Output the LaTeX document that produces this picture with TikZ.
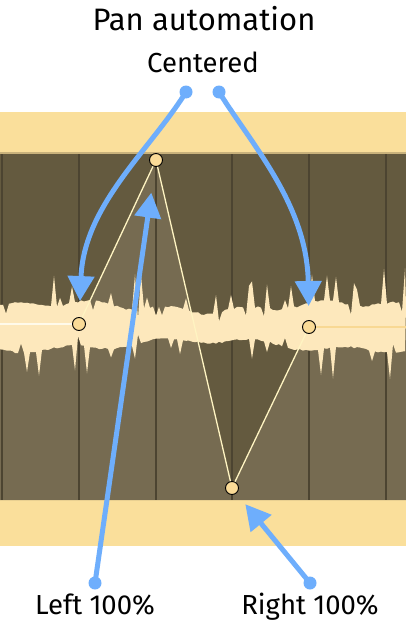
\documentclass[tikz,border=0pt]{standalone}
\usepackage{fontspec}
\setmainfont{Fira Sans}
\usetikzlibrary{arrows.meta}
\usetikzlibrary{positioning}

\definecolor{laneYellow}{HTML}{FADF9B}
\definecolor{laneDark}{HTML}{645A3F}
\definecolor{laneLight}{HTML}{766B51}
\definecolor{gridLine}{HTML}{4C4431}
\definecolor{bandEdge}{HTML}{C9B27C}
\definecolor{waveFill}{HTML}{FDE8BC}
\definecolor{curveLine}{HTML}{FFF4C2}
\definecolor{headLine}{HTML}{FFFAEA}
\definecolor{tailLine}{HTML}{F8D893}
\definecolor{pointFill}{HTML}{FADB97}
\definecolor{pointerBlue}{HTML}{6EAEFC}

\begin{document}
\begin{tikzpicture}[x=1pt, y=-1pt,
    autopoint/.style={circle, draw=black, line width=0.9pt, fill=pointFill,
        minimum size=13pt, inner sep=0pt},
    pointer/.style={pointerBlue, line width=5pt,
        -{Triangle[length=25pt, width=26pt]}},
    pointerdot/.style={fill=pointerBlue},
    bigcaption/.style={font=\fontsize{31}{34}\selectfont, anchor=base},
    caption/.style={font=\fontsize{27.5}{31}\selectfont, anchor=base}
]
    \fill[white] (0,0) rectangle (406,626);
    \useasboundingbox (0,0) rectangle (406,626);

    % lanes
    \fill[laneYellow] (0,112) rectangle (406,152);
    \fill[laneYellow] (0,500) rectangle (406,546);
    \fill[laneDark] (0,152) rectangle (406,500);
    \draw[bandEdge, line width=2pt] (0,153) -- (406,153);

    % automation key points
    \coordinate (kLeft) at (79,324);
    \coordinate (kTop) at (156,160);
    \coordinate (kBottom) at (232,488);
    \coordinate (kRight) at (309,327);

    \fill[laneLight] (0,324) -- (kLeft) -- (kTop) -- (kBottom) -- (kRight)
        -- (406,327) -- (406,500) -- (0,500) -- cycle;
    \foreach \gx in {2,79,156,232,309,386}
        \draw[gridLine, line width=1.5pt] (\gx,154) -- (\gx,500);

    % waveform
    \pgfmathsetseed{1717}
    \fill[waveFill] (0,324)
        \foreach \x in {0,3,...,405}{
            -- (\x,{324-(16+4*sin(\x*1.3)+3*sin(\x*4.7+20)+2*rnd+(rnd>0.87)*(8+30*rnd)-(rnd>0.95)*9)}) }
        -- (406,306)
        \foreach \x in {405,402,...,0}{
            -- (\x,{326+(18+5*sin(\x*1.1+50)+3*sin(\x*3.9)+2*rnd+(rnd>0.87)*(8+30*rnd)-(rnd>0.95)*9)}) }
        -- cycle;

    % automation curve
    \draw[headLine, line width=2pt] (0,324) -- (kLeft);
    \draw[curveLine, line width=1.3pt] (kLeft) -- (kTop) -- (kBottom) -- (kRight);
    \draw[tailLine, line width=2.5pt] (kRight) -- (406,327);

    \node[autopoint] (ptLeft) at (kLeft) {};
    \node[autopoint] (ptTop) at (kTop) {};
    \node[autopoint] (ptBottom) at (kBottom) {};
    \node[autopoint] (ptRight) at (kRight) {};

    % labels
    \node[bigcaption] (title) at (204,31) {Pan automation};
    \node[caption] (centered) at (203,73) {Centered};
    \node[caption] (leftLabel) at (95,614) {Left 100\%};
    \node[caption] (rightLabel) at (310,614) {Right 100\%};

    \coordinate (centeredL) at (186,92);
    \coordinate (centeredR) at (219,92);
    \coordinate (leftDot) at (95,583);
    \coordinate (rightDot) at (310,583);

    % pointers
    \draw[pointer, shorten >=16pt] (centeredL) .. controls (150,150) and (84,205) .. (ptLeft);
    \draw[pointer, shorten >=14pt] (centeredR) .. controls (252,145) and (307,205) .. (ptRight);
    \draw[pointer, shorten >=26pt] (leftDot) -- (ptTop);
    \draw[pointer, shorten >=14pt] (rightDot) -- (ptBottom);
    \foreach \d in {centeredL,centeredR,leftDot,rightDot}
        \fill[pointerdot] (\d) circle (6.5pt);
\end{tikzpicture}
\end{document}
